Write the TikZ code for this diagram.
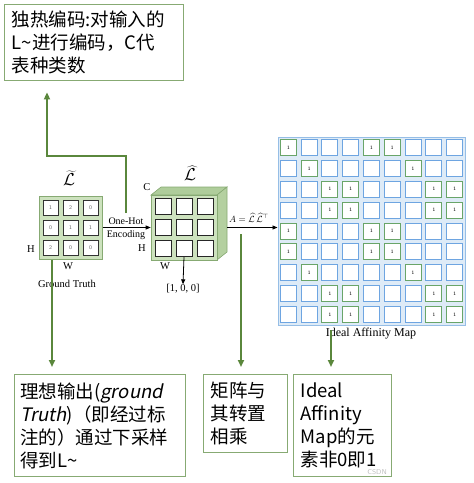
\documentclass[tikz,border=0pt]{standalone}
\usepackage{fontspec}
\setmainfont{Liberation Serif}
\newfontfamily\cjk{Noto Sans CJK SC}
\newfontfamily\cjkit[FakeSlant=0.2]{Noto Sans CJK SC}
\usetikzlibrary{arrows.meta}
\definecolor{gline}{RGB}{90,135,60}
\definecolor{gbox}{RGB}{135,170,115}
\definecolor{lgreen}{RGB}{205,226,190}
\definecolor{mgreen}{RGB}{175,205,155}
\definecolor{lblue}{RGB}{222,235,247}
\definecolor{bblue}{RGB}{150,190,230}
\definecolor{cblue}{RGB}{110,165,225}
\definecolor{cgreen}{RGB}{105,165,105}
\tikzset{
  note/.style={draw=gbox, line width=1.4pt, fill=white, anchor=north west, inner ysep=0pt,
    font=\cjk\fontsize{18.5}{23}\selectfont, align=left},
  gconn/.style={draw=gline, line width=2pt, -{Triangle[length=7pt,width=6pt]}},
  barrow/.style={draw=black, line width=0.8pt, -{Triangle[length=5pt,width=4pt]}},
  ltcell/.style={draw=black!80, line width=1pt, fill=white, minimum size=15pt, inner sep=0pt,
    font=\fontsize{5.5}{6}\selectfont\sffamily, text=black!60},
  lhcell/.style={draw=black!85, line width=1pt, fill=white, minimum size=16pt, inner sep=0pt},
  acell/.style={draw=cblue, line width=1pt, fill=white, minimum size=16pt, inner sep=0pt,
    font=\fontsize{5}{6}\selectfont\sffamily},
  aone/.style={acell, draw=cgreen},
  lbl/.style={inner sep=0pt, font=\fontsize{10.5}{12}\selectfont},
}
\begin{document}
\begin{tikzpicture}[x=1pt,y=-1pt]
\useasboundingbox (0,0) rectangle (474,483);
\fill[white] (0,0) rectangle (474,483);

% note boxes
\node[note, minimum width=179pt, minimum height=76pt, text width=165pt, inner xsep=7pt] (topbox) at (4,4)
  {独热编码:对输入的\\L\char`\~进行编码，C代\\表种类数};
\node[note, minimum width=171pt, minimum height=102pt, text width=160pt, inner xsep=5.5pt] (box1) at (14,374)
  {理想输出({\cjkit ground}\\{\cjkit Truth})（即经过标\\注的）通过下采样\\得到L\char`\~};
\node[note, minimum width=84pt, minimum height=78pt, text width=70pt, inner xsep=7pt] (box2) at (203,374)
  {矩阵与\\其转置\\相乘};
\node[note, minimum width=98pt, minimum height=102pt, text width=84pt, inner xsep=7pt] (box3) at (293,374)
  {Ideal\\Affinity\\Map的元\\素非0即1};

% ground truth grid
\node[draw=gbox, fill=lgreen, line width=1pt, minimum width=63pt, minimum height=63pt, inner sep=0pt] (ltbox) at (70.5,227.5) {};
\foreach \v [count=\i from 0] in {1,2,0,0,1,1,2,0,0} {
  \pgfmathtruncatemacro{\row}{floor(\i/3)}
  \pgfmathtruncatemacro{\col}{mod(\i,3)}
  \node[ltcell] (lt\i) at (50.5+20*\col, 207.5+20*\row) {\v};
}
\node[lbl, font=\fontsize{16}{18}\selectfont] (ltlab) at (69,178) {$\widetilde{\mathcal{L}}$};
\node[lbl] (lth) at (31,249) {H};
\node[lbl] (ltw) at (68,266) {W};
\node[lbl] (gt) at (67,284) {Ground Truth};

% one-hot 3D box
\fill[mgreen, draw=gbox, line width=0.6pt] (151,195) -- (161,187) -- (227,187) -- (217,195) -- cycle;
\fill[mgreen!85!lgreen, draw=gbox, line width=0.6pt] (217,195) -- (227,187) -- (227,252) -- (217,260) -- cycle;
\node[draw=gbox, fill=lgreen, line width=0.6pt, minimum width=66pt, minimum height=65pt, inner sep=0pt] (lhat) at (184,227.5) {};
\foreach \i in {0,...,8} {
  \pgfmathtruncatemacro{\row}{floor(\i/3)}
  \pgfmathtruncatemacro{\col}{mod(\i,3)}
  \node[lhcell] (lh\i) at (163+21*\col, 206.5+21*\row) {};
}
\node[lbl, font=\fontsize{16}{18}\selectfont] (lhlab) at (190,173) {$\widehat{\mathcal{L}}$};
\node[lbl] (lhc) at (147,187) {C};
\node[lbl] (lhh) at (142,248) {H};
\node[lbl] (lhw) at (165,266) {W};
\node[lbl] (vecl) at (183,289) {{[}1, 0, 0{]}};
\draw[barrow] (lh7.south) -- (vecl.north);

% one-hot arrow
\draw[barrow] (ltbox.east) -- (lhat.west);
\node[lbl, font=\fontsize{10}{12}\selectfont] (oh1) at (126,221) {One-Hot};
\node[lbl, font=\fontsize{10}{12}\selectfont] (oh2) at (126,235) {Encoding};

% affinity map
\node[draw=bblue, fill=lblue, line width=1pt, minimum width=187pt, minimum height=188pt, inner sep=0pt] (amap) at (371.5,231) {};
\foreach \r in {0,...,8} {
  \foreach \c in {0,...,8} {
    \pgfmathtruncatemacro{\lr}{{1,2,0,0,1,1,2,0,0}[\r]}
    \pgfmathtruncatemacro{\lc}{{1,2,0,0,1,1,2,0,0}[\c]}
    \ifnum\lr=\lc
      \node[aone] (a\r\c) at (278+20.78*\c+10.39, 137+20.89*\r+10.44) {1};
    \else
      \node[acell] (a\r\c) at (278+20.78*\c+10.39, 137+20.89*\r+10.44) {};
    \fi
  }
}
\node[lbl, font=\fontsize{12}{14}\selectfont] (amlab) at (371,334) {Ideal Affinity Map};

% A arrow
\coordinate (aside) at (227,227.5);
\draw[barrow] (aside) -- (amap.west |- aside);
\node[lbl, font=\fontsize{9}{11}\selectfont] (alab) at (249,218) {$A=\widehat{\mathcal{L}}\,\widehat{\mathcal{L}}^{\top}$};

% green connectors
\coordinate (ohstart) at (126,213);
\draw[gconn, shorten >=11pt] (ohstart) -- (126,156) -| ([xshift=43pt]topbox.south west);
\draw[gconn, shorten >=7pt] ([xshift=-18.5pt]ltbox.south) -- ([xshift=-18.5pt]ltbox.south |- box1.north);
\coordinate (mstart) at (241,234);
\draw[gconn, shorten >=7pt] (mstart) -- (mstart |- box2.north);
\coordinate (rstart) at (331,330);
\draw[gconn, shorten >=7pt] (rstart) -- (rstart |- box3.north);

\node[inner sep=0pt, text=black!25, font=\sffamily\fontsize{7}{8}\selectfont] (wm) at (377,472) {CSDN};
\end{tikzpicture}
\end{document}
